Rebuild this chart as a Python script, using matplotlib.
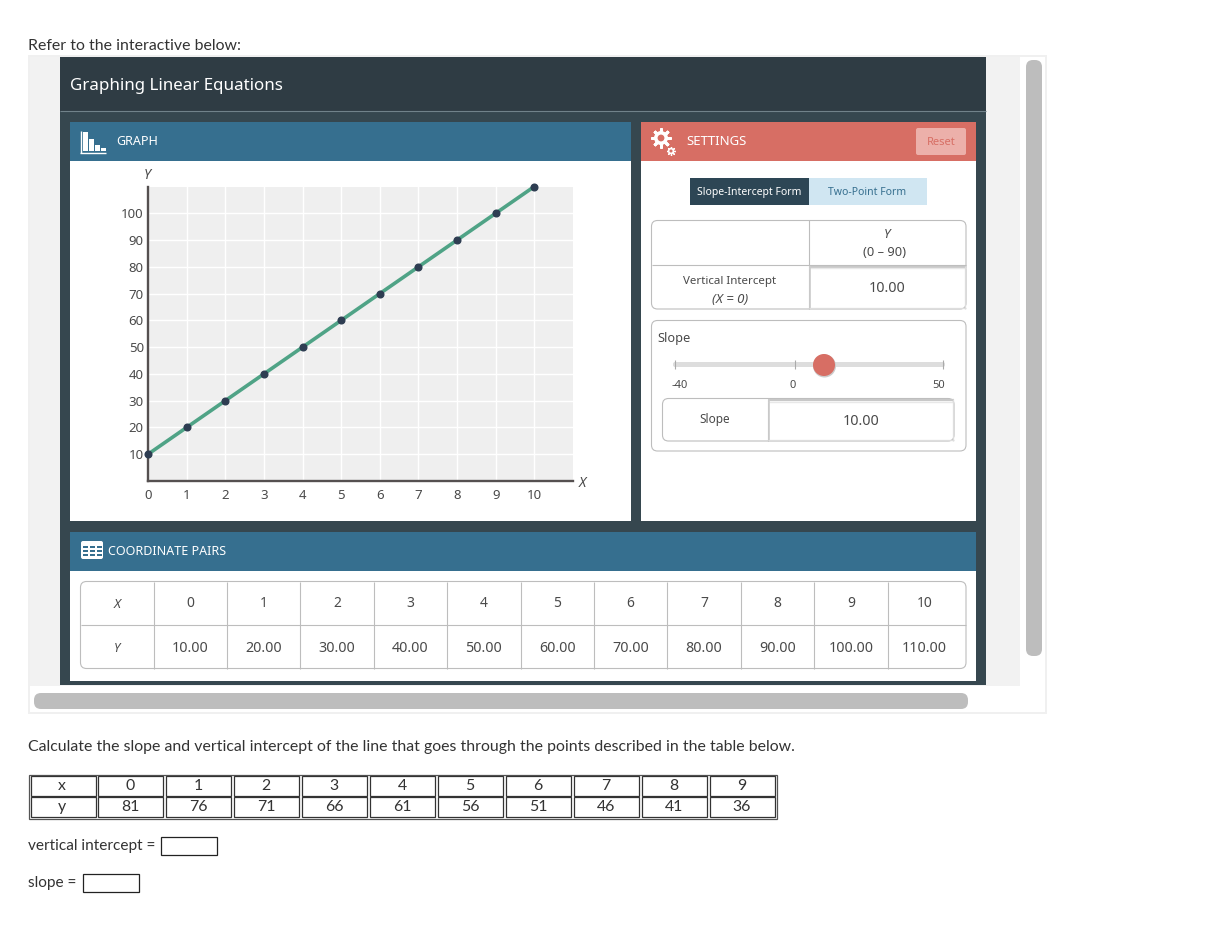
import matplotlib
matplotlib.use("Agg")
import matplotlib.pyplot as plt
from matplotlib.patches import Rectangle, FancyBboxPatch, Circle

# graph data
x_vals = [0, 1, 2, 3, 4, 5, 6, 7, 8, 9, 10]
y_vals = [10, 20, 30, 40, 50, 60, 70, 80, 90, 100, 110]
y_ticks = [10, 20, 30, 40, 50, 60, 70, 80, 90, 100]

# table under the question
table_x = [0, 1, 2, 3, 4, 5, 6, 7, 8, 9]
table_y = [81, 76, 71, 66, 61, 56, 51, 46, 41, 36]

intercept = 10.00
slope = 10.00

DARK = "#36474f"
HEADER = "#2f3c44"
BLUE = "#366f8f"
RED = "#d76e64"
TEXT = "#4a4a4a"
EDGE = "#bdbdbd"
WIDGET_FONT = "Noto Sans"
PAGE_FONT = "Lato"

fig = plt.figure(figsize=(12.08, 9.46), dpi=100)

# page layer, in pixels of the screenshot
page = fig.add_axes([0, 0, 1, 1], zorder=0)
page.set_xlim(0, 1208)
page.set_ylim(946, 0)
page.axis("off")


def box(x0, y0, x1, y1, color, z=1, **kw):
    page.add_patch(Rectangle((x0, y0), x1 - x0, y1 - y0, facecolor=color, edgecolor="none", zorder=z, **kw))


def rbox(x0, y0, x1, y1, face, edge="none", r=6, lw=0.8, z=2):
    page.add_patch(FancyBboxPatch((x0, y0), x1 - x0, y1 - y0, boxstyle="round,pad=0,rounding_size=%g" % r,
                                  facecolor=face, edgecolor=edge, linewidth=lw, zorder=z))


def hline(x0, x1, y, color=EDGE, lw=0.8, z=3):
    page.plot([x0, x1], [y, y], color=color, lw=lw, zorder=z, solid_capstyle="butt")


def vline(x, y0, y1, color=EDGE, lw=0.8, z=3):
    page.plot([x, x], [y0, y1], color=color, lw=lw, zorder=z, solid_capstyle="butt")


def wtext(x, y, s, size=9, color=TEXT, ha="center", **kw):
    page.text(x, y + 0.7, s, fontsize=size, color=color, ha=ha, va="center", family=WIDGET_FONT, zorder=6, **kw)


def ptext(x, y, s, size=11.4, ha="left"):
    page.text(x, y + 0.7, s, fontsize=size, color="#333333", ha=ha, va="center", family=PAGE_FONT, zorder=6)


def gear(x, y, r, hole_color):
    page.plot([x], [y], marker=(8, 2, 0), ms=r * 1.44, mew=r * 0.2, color="white", zorder=5)
    page.add_patch(Circle((x, y), r * 0.7, facecolor="white", edgecolor="none", zorder=5))
    page.add_patch(Circle((x, y), r * 0.34, facecolor=hole_color, edgecolor="none", zorder=6))


def input_shadow(x0, y0, x1, y1):
    hline(x0, x1, y0 + 1, "#c8c8c8", 1.6, 4)
    hline(x0, x1, y0 + 2.5, "#e8e8e8", 1.0, 4)
    vline(x0 + 1, y0, y1, "#cccccc", 1.2, 4)
    vline(x1 - 1, y0, y1, "#dddddd", 0.9, 4)
    hline(x0, x1, y1 - 1, "#dddddd", 0.9, 4)


ptext(28, 45, "Refer to the interactive below:")

# iframe frame and scrollbars
box(28, 55, 1047, 714, "#f0f0f0", 0)
box(30, 57, 1045, 712, "white", 0)
box(30, 57, 1020, 686, "#f2f2f2", 0)
rbox(34, 693, 968, 709, "#bdbdbd", r=7)
rbox(1026, 60, 1042, 656, "#bdbdbd", r=7)

# widget
box(60, 57, 986, 685, DARK)
box(60, 57, 986, 111, HEADER)
hline(60, 986, 111.5, "#71828a", 0.8)
wtext(70, 85, "Graphing Linear Equations", 12.2, "white", ha="left")

# graph panel
box(70, 122, 631, 521, "white", 2)
box(70, 122, 631, 161, BLUE, 3)
wtext(116, 141, "GRAPH", 9, "white", ha="left")
vline(80.5, 131, 153, "white", 1.0, 4)
hline(80, 106, 153, "white", 1.0, 4)
box(83, 132, 88, 151, "white", 4)
box(89, 139, 94, 151, "white", 4)
box(95, 145, 100, 151, "white", 4)
box(101, 148, 106, 151, "white", 4)

# settings panel
box(641, 122, 976, 521, "white", 2)
box(641, 122, 976, 161, RED, 3)
gear(661, 138, 10, RED)
gear(671, 151, 4.5, RED)
wtext(686, 141, "SETTINGS", 9.5, "white", ha="left")
rbox(916, 128, 966, 155, "#ecb0aa", r=2, z=4)
wtext(941, 142, "Reset", 8, RED)

# form toggle
box(690, 178, 809, 205, "#2d4655", 3)
box(809, 178, 927, 205, "#d0e6f2", 3)
wtext(749, 192, "Slope-Intercept Form", 7.5, "white")
wtext(867.5, 192, "Two-Point Form", 7.5, BLUE)

# intercept table
rbox(651.5, 220.5, 966, 309, "white", EDGE)
hline(651.5, 966, 265.5)
vline(808.5, 220.5, 309)
input_shadow(809, 266, 966, 309)
wtext(887, 234, "Y", 9.3, style="italic")
wtext(885, 252, "(0 \u2013 90)", 9.3)
wtext(730, 281, "Vertical Intercept", 8.3)
wtext(730, 299, "(X = 0)", 9.5, style="italic")
wtext(887, 288, "%.2f" % intercept, 10.3)

# slope slider
rbox(651.5, 320.5, 966, 451, "white", EDGE)
wtext(657, 338, "Slope", 9.2, ha="left")
rbox(673, 362, 945, 367, "#dddddd", r=2, z=3)
for tx in [674.5, 794.5, 942.5]:
    vline(tx, 360, 369, "#aaaaaa", 0.8, 4)
page.add_patch(Circle((824.5, 366), 11.5, facecolor="#cccccc", edgecolor="none", zorder=4))
page.add_patch(Circle((824, 365), 11, facecolor=RED, edgecolor="none", zorder=5))
wtext(680, 385, "-40", 8)
wtext(793, 385, "0", 8)
wtext(939, 385, "50", 8)
rbox(662.5, 398.5, 954, 441, "white", EDGE)
vline(767.5, 398.5, 441)
input_shadow(768, 399, 954, 441)
wtext(715, 419, "Slope", 8.5)
wtext(861, 421, "%.2f" % slope, 10.3)

# coordinate pairs panel
box(70, 532, 976, 681, "white", 2)
box(70, 532, 976, 571, BLUE, 3)
rbox(81, 541, 103, 559, "white", r=2, z=4)
for cx in [83, 90, 97]:
    for cy in [546, 550, 554]:
        box(cx, cy, cx + 4.8, cy + 2.4, BLUE, 5)
wtext(108, 551, "COORDINATE PAIRS", 9, "white", ha="left")

rbox(80.5, 581.5, 966, 668.5, "white", EDGE)
hline(80.5, 966, 624.5)
wtext(117, 604, "X", 9.5, style="italic")
wtext(117, 648, "Y", 9, style="italic")
for i in range(len(x_vals)):
    left = 153.5 + 73.4 * i
    vline(left, 581.5, 668.5)
    wtext(left + 36.7, 603, str(x_vals[i]), 10)
    wtext(left + 36.7, 648, "%.2f" % y_vals[i], 10.3)

# question
ptext(28, 746, "Calculate the slope and vertical intercept of the line that goes through the points described in the table below.")

page.add_patch(Rectangle((28.5, 774.5), 748.5, 44, facecolor="white", edgecolor="#555555", lw=0.9, zorder=2))
labels = ["x", "y"]
rows = [table_x, table_y]
for r in range(2):
    top = 776 + 21 * r
    page.add_patch(Rectangle((30.5, top), 65, 19.5, facecolor="white", edgecolor="#333333", lw=0.9, zorder=3))
    ptext(62, top + 9.5, labels[r], 11.4, ha="center")
    for i in range(len(table_x)):
        left = 97.5 + 68 * i
        page.add_patch(Rectangle((left, top), 65.5, 19.5, facecolor="white", edgecolor="#333333", lw=0.9, zorder=3))
        ptext(left + 32.5, top + 9.5, str(rows[r][i]), 11.4, ha="center")

ptext(28, 845, "vertical intercept =", 11.1)
page.add_patch(Rectangle((161, 837), 55.5, 18, facecolor="white", edgecolor="#222222", lw=0.9, zorder=3))
ptext(28, 882, "slope =", 11.1)
page.add_patch(Rectangle((83, 874), 55.5, 18, facecolor="white", edgecolor="#222222", lw=0.9, zorder=3))

# the line chart
ax = fig.add_axes([148 / 1208, 1 - 481 / 946, 425 / 1208, 294.5 / 946], zorder=3)
ax.set_facecolor("#efefef")
ax.set_xlim(0, 11)
ax.set_ylim(0, 110)
ax.set_xticks(x_vals)
ax.set_yticks(y_ticks)
ax.grid(True, color="white", lw=1.0)
ax.set_axisbelow(True)
for side in ["top", "right"]:
    ax.spines[side].set_visible(False)
for side in ["left", "bottom"]:
    ax.spines[side].set_color("#555050")
    ax.spines[side].set_linewidth(1.7)
ax.tick_params(length=0, labelsize=9.5, labelcolor=TEXT, pad=6)
ax.tick_params(axis="y", pad=3)
for lab in ax.get_xticklabels() + ax.get_yticklabels():
    lab.set_family(WIDGET_FONT)
ax.plot(x_vals, y_vals, color="#4fa386", lw=2.6, clip_on=False, zorder=3)
ax.plot(x_vals, y_vals, "o", color="#2e3d52", ms=4.8, clip_on=False, zorder=4)

wtext(147, 175, "Y", 10, style="italic")
wtext(582, 483, "X", 10, style="italic")

fig.savefig("out.png", dpi=100)
